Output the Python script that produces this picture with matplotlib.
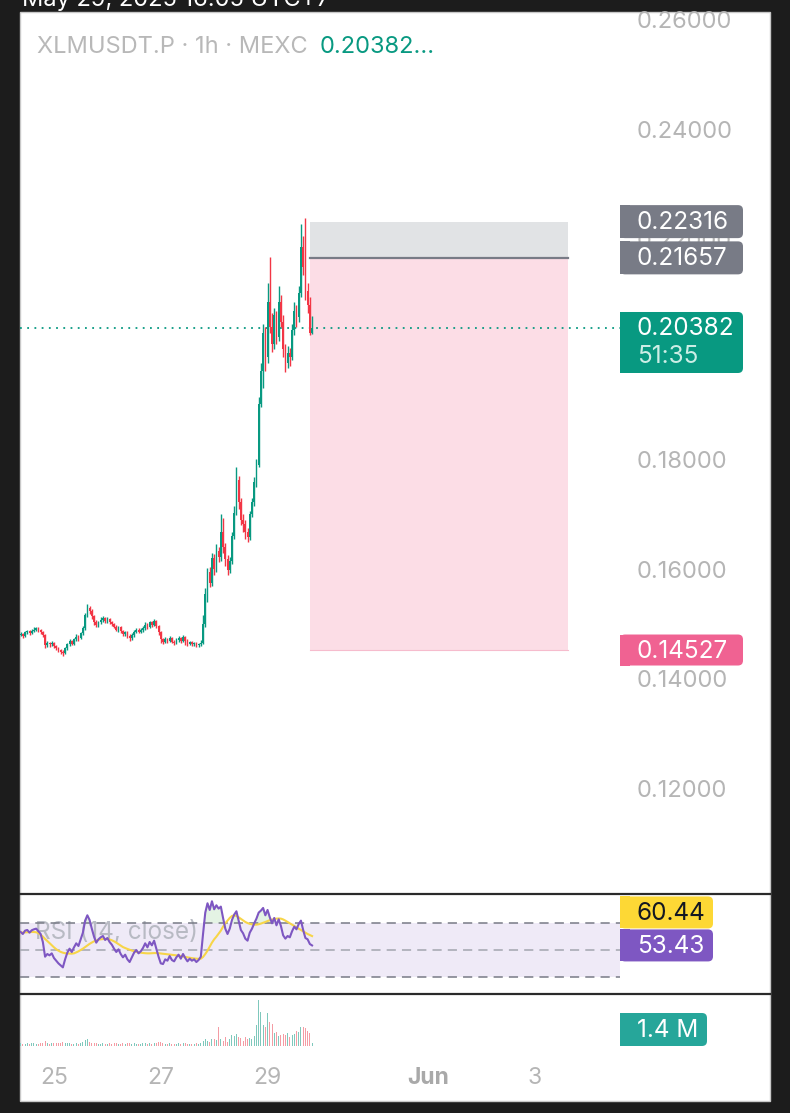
import numpy as np
import matplotlib
matplotlib.use("Agg")
import matplotlib.pyplot as plt
from matplotlib.patches import Rectangle, FancyBboxPatch
from matplotlib.transforms import IdentityTransform
from matplotlib.lines import Line2D

plt.rcParams['font.family'] = ['Inter', 'DejaVu Sans']

# ---- data: hourly candles from May 24 09:00 (index 0) ----
first_open = 0.1480
closes = [0.1482, 0.1478, 0.1485, 0.1487, 0.1483, 0.1488, 0.1490, 0.1492, 0.1489, 0.1486,
          0.1480, 0.1462, 0.1465, 0.1463, 0.1466, 0.1460, 0.1456, 0.1452, 0.1449, 0.1447,
          0.1456, 0.1463, 0.1469, 0.1464, 0.1472, 0.1477, 0.1474, 0.1483, 0.1492, 0.1516,
          0.1530, 0.1524, 0.1514, 0.1504, 0.1498, 0.1503, 0.1508, 0.1511, 0.1505, 0.1509,
          0.1503, 0.1500, 0.1495, 0.1490, 0.1494, 0.1487, 0.1482, 0.1485, 0.1478, 0.1474,
          0.1480, 0.1486, 0.1490, 0.1486, 0.1489, 0.1493, 0.1499, 0.1494, 0.1503, 0.1499,
          0.1505, 0.1496, 0.1485, 0.1472, 0.1468, 0.1473, 0.1470, 0.1475, 0.1468, 0.1466,
          0.1471, 0.1474, 0.1469, 0.1476, 0.1470, 0.1464, 0.1467, 0.1463, 0.1465, 0.1461,
          0.1463, 0.1466, 0.1500, 0.1555, 0.1595, 0.1575, 0.1620, 0.1600, 0.1632, 0.1622,
          0.1668, 0.1640, 0.1618, 0.1598, 0.1615, 0.1660, 0.1702, 0.1762, 0.1722, 0.1690,
          0.1682, 0.1668, 0.1658, 0.1700, 0.1722, 0.1758, 0.1790, 0.1900, 0.1960, 0.2030,
          0.1985, 0.2085, 0.2040, 0.2010, 0.2062, 0.2022, 0.2085, 0.2050, 0.2000, 0.1975,
          0.1992, 0.1985, 0.2035, 0.2070, 0.2058, 0.2102, 0.2185, 0.2150, 0.2105, 0.2080,
          0.2030, 0.20382]
highs = [0.1486, 0.1484, 0.1488, 0.1490, 0.1489, 0.1491, 0.1494, 0.1495, 0.1494, 0.1491,
         0.1488, 0.1482, 0.1469, 0.1468, 0.1470, 0.1467, 0.1462, 0.1459, 0.1455, 0.1452,
         0.1459, 0.1466, 0.1472, 0.1471, 0.1475, 0.1481, 0.1480, 0.1486, 0.1496, 0.1520,
         0.1536, 0.1533, 0.1527, 0.1517, 0.1508, 0.1506, 0.1512, 0.1515, 0.1513, 0.1512,
         0.1511, 0.1506, 0.1502, 0.1498, 0.1497, 0.1496, 0.1490, 0.1488, 0.1487, 0.1481,
         0.1483, 0.1489, 0.1493, 0.1492, 0.1492, 0.1496, 0.1503, 0.1501, 0.1506, 0.1505,
         0.1510, 0.1507, 0.1498, 0.1488, 0.1474, 0.1476, 0.1475, 0.1478, 0.1477, 0.1471,
         0.1474, 0.1478, 0.1476, 0.1480, 0.1478, 0.1472, 0.1470, 0.1469, 0.1468, 0.1467,
         0.1466, 0.1471, 0.1516, 0.1565, 0.1601, 0.1604, 0.1630, 0.1628, 0.1645, 0.1640,
         0.1700, 0.1692, 0.1648, 0.1625, 0.1622, 0.1668, 0.1715, 0.1786, 0.1770, 0.1730,
         0.1700, 0.1690, 0.1675, 0.1706, 0.1730, 0.1768, 0.1800, 0.1912, 0.1975, 0.2045,
         0.2040, 0.2120, 0.2167, 0.2065, 0.2075, 0.2070, 0.2115, 0.2098, 0.2062, 0.2010,
         0.2005, 0.2002, 0.2045, 0.2085, 0.2080, 0.2115, 0.2228, 0.2205, 0.2238, 0.2120,
         0.2095, 0.2060]
lows = [0.1478, 0.1475, 0.1476, 0.1482, 0.1480, 0.1481, 0.1485, 0.1487, 0.1485, 0.1482,
        0.1476, 0.1456, 0.1458, 0.1459, 0.1460, 0.1457, 0.1452, 0.1449, 0.1445, 0.1442,
        0.1445, 0.1453, 0.1460, 0.1461, 0.1462, 0.1469, 0.1470, 0.1472, 0.1480, 0.1490,
        0.1512, 0.1518, 0.1509, 0.1499, 0.1494, 0.1495, 0.1500, 0.1504, 0.1501, 0.1502,
        0.1500, 0.1496, 0.1492, 0.1487, 0.1486, 0.1484, 0.1479, 0.1478, 0.1475, 0.1470,
        0.1471, 0.1477, 0.1483, 0.1483, 0.1484, 0.1486, 0.1490, 0.1491, 0.1492, 0.1495,
        0.1497, 0.1492, 0.1480, 0.1466, 0.1464, 0.1465, 0.1466, 0.1468, 0.1465, 0.1462,
        0.1463, 0.1468, 0.1466, 0.1467, 0.1462, 0.1460, 0.1461, 0.1460, 0.1460, 0.1458,
        0.1459, 0.1460, 0.1463, 0.1495, 0.1540, 0.1568, 0.1570, 0.1590, 0.1595, 0.1612,
        0.1615, 0.1630, 0.1605, 0.1590, 0.1592, 0.1610, 0.1655, 0.1698, 0.1710, 0.1680,
        0.1668, 0.1655, 0.1650, 0.1652, 0.1695, 0.1715, 0.1750, 0.1785, 0.1895, 0.1930,
        0.1960, 0.1975, 0.2030, 0.1995, 0.2000, 0.2010, 0.2015, 0.2040, 0.1985, 0.1958,
        0.1965, 0.1970, 0.1980, 0.2025, 0.2040, 0.2050, 0.2095, 0.2135, 0.2090, 0.2065,
        0.2025, 0.2028]
volumes_m = [1.2, 1.0, 1.1, 1.3, 1.0, 1.2, 1.4, 1.1, 1.0, 1.2,
             1.5, 2.5, 1.3, 1.1, 1.2, 1.4, 1.2, 1.3, 1.5, 1.6,
             1.4, 1.3, 1.2, 1.0, 1.1, 1.3, 1.0, 1.4, 1.8, 2.8,
             3.2, 1.8, 1.5, 1.4, 1.3, 1.1, 1.0, 1.2, 1.1, 1.0,
             1.2, 1.1, 1.3, 1.2, 1.0, 1.1, 1.3, 1.0, 1.2, 1.4,
             1.1, 1.2, 1.0, 1.1, 1.0, 1.2, 1.3, 1.1, 1.2, 1.1,
             1.4, 1.3, 1.6, 2.0, 1.3, 1.1, 1.0, 1.2, 1.1, 1.0,
             1.1, 1.2, 1.0, 1.3, 1.2, 1.1, 1.0, 1.1, 1.0, 1.2,
             1.1, 1.3, 2.5, 3.0, 2.5, 2.0, 3.0, 3.2, 2.6, 8.5,
             3.0, 2.5, 4.0, 2.0, 3.0, 5.0, 4.5, 5.5, 4.0, 3.5,
             2.5, 4.0, 3.0, 3.5, 3.0, 4.5, 9.4, 21.0, 15.5, 9.4,
             8.5, 15.0, 11.0, 10.0, 6.0, 6.5, 4.7, 5.0, 5.6, 5.0,
             5.8, 4.0, 5.0, 5.5, 7.0, 6.5, 8.5, 8.5, 8.0, 7.0,
             6.0, 1.4]
rsi = [63.5, 62.0, 64.5, 65.0, 63.0, 64.8, 65.5, 66.0, 64.0, 62.0,
       56.0, 45.0, 47.0, 46.0, 47.5, 44.0, 42.0, 40.0, 38.5, 37.0,
       43.0, 48.0, 51.0, 48.5, 52.0, 55.0, 53.0, 58.0, 63.0, 72.0,
       76.0, 72.5, 66.0, 60.0, 55.5, 58.0, 59.5, 60.5, 57.5, 59.0,
       56.0, 54.0, 51.0, 48.5, 50.5, 47.0, 44.5, 46.5, 43.0, 41.0,
       44.5, 48.0, 50.0, 47.5, 49.0, 51.5, 55.0, 52.0, 56.0, 53.5,
       57.0, 51.0, 45.0, 40.0, 39.5, 43.0, 42.0, 45.5, 42.5, 41.5,
       44.5, 46.5, 43.5, 47.0, 44.0, 41.5, 43.5, 42.0, 43.0, 41.0,
       42.5, 45.0, 62.0, 78.0, 85.0, 80.0, 86.5, 80.5, 83.5, 81.0,
       82.5, 74.0, 66.0, 62.0, 66.0, 72.5, 76.5, 79.0, 72.0, 65.0,
       62.5, 58.5, 57.0, 63.0, 66.0, 70.0, 73.5, 78.0, 79.5, 81.5,
       76.0, 80.0, 74.5, 70.0, 74.0, 68.5, 73.0, 68.0, 61.0, 58.5,
       60.5, 59.5, 64.0, 67.5, 65.5, 69.5, 72.0, 65.0, 59.0, 58.0,
       54.5, 53.43]
rsi_ma = [63.0, 63.1, 63.2, 63.3, 63.4, 63.5, 63.5, 63.3, 62.6, 61.5,
          60.0, 58.3, 56.8, 55.2, 53.6, 52.0, 50.6, 49.5, 48.6, 48.0,
          47.6, 47.4, 47.3, 47.3, 47.5, 48.2, 49.0, 50.0, 51.0, 52.2,
          53.5, 54.6, 55.6, 56.5, 57.2, 57.7, 58.0, 58.2, 58.3, 58.2,
          57.9, 57.3, 56.5, 55.5, 54.4, 53.3, 52.2, 51.5, 50.8, 50.2,
          49.6, 49.1, 48.7, 48.3, 48.0, 47.8, 47.6, 47.5, 47.5, 47.6,
          47.7, 47.7, 47.6, 47.4, 47.2, 47.0, 46.8, 46.6, 46.4, 46.2,
          46.0, 45.7, 45.4, 45.1, 44.8, 44.5, 44.2, 43.9, 43.7, 43.5,
          43.4, 43.5, 44.8, 47.0, 49.5, 52.5, 55.5, 58.0, 60.0, 62.2,
          64.5, 67.5, 70.0, 72.0, 74.0, 75.5, 76.0, 75.5, 74.5, 73.3,
          72.0, 71.0, 70.2, 69.6, 69.2, 69.0, 69.0, 69.3, 69.8, 70.4,
          71.0, 71.7, 72.3, 72.8, 73.2, 73.5, 73.6, 73.5, 72.9, 72.0,
          71.0, 70.0, 69.0, 68.0, 67.0, 66.0, 65.0, 64.0, 63.0, 62.0,
          61.2, 60.44]

price_ticks = [0.12, 0.14, 0.16, 0.18, 0.20, 0.22, 0.24, 0.26]
day_ticks = [15, 63, 111, 183, 231]          # hours from May 24 09:00
day_labels = ['25', '27', '29', 'Jun', '3']

entry, stop, target = 0.21657, 0.22316, 0.14527
last_price = 0.20382
box_x = (130, 246)

# ---- colours ----
UP, DOWN = '#089981', '#f23645'
GREY_TXT = '#b2b5be'
W, H = 790, 1113

fig = plt.figure(figsize=(W / 100, H / 100), dpi=100, facecolor='#1c1c1c')
fig.add_artist(Rectangle((20, H - 1101), 750, 1089, transform=IdentityTransform(),
                         facecolor='white', edgecolor='#c8c8c8', lw=1, zorder=-5))


def axes_px(top, bottom):
    return fig.add_axes([20 / W, 1 - bottom / H, 600 / W, (bottom - top) / H])


ax = axes_px(12, 894)
rax = axes_px(896, 993)
vax = axes_px(995, 1046)
x = np.arange(len(closes))
xlim = (-0.27, 269.4)
for a in (ax, rax, vax):
    a.set_facecolor('none')
    a.set_xlim(*xlim)
    for s in a.spines.values():
        s.set_visible(False)
    a.tick_params(length=0)
    a.set_xticks([])
    a.set_yticks([])

# ---- price pane ----
closes_a = np.array(closes)
opens_a = np.array([first_open] + closes[:-1])
up = closes_a >= opens_a
cols = np.where(up, UP, DOWN)
ax.vlines(x, lows, highs, colors=cols, lw=1, zorder=3)
ax.bar(x, np.maximum(np.abs(closes_a - opens_a), 0.00015),
       bottom=np.minimum(opens_a, closes_a), width=0.75, color=cols, lw=0, zorder=3)
ax.set_ylim(0.100909, 0.261273)

ax.fill_between(box_x, entry, stop, color='#e1e3e5', lw=0, zorder=1)
ax.fill_between(box_x, target, entry, color='#fcdde6', lw=0, zorder=1)
ax.plot(box_x, [entry, entry], color='#787b86', lw=1.6, zorder=2)
ax.plot(box_x, [target, target], color='#f6bccd', lw=0.8, zorder=2)
ax.axhline(last_price, color=UP, lw=1.3, ls=(0, (1, 3)), zorder=2)

ax.yaxis.tick_right()
ax.set_yticks(price_ticks)
ax.set_yticklabels([f'{v:.5f}' for v in price_ticks], fontsize=17, color='#b5b5b5')
ax.tick_params(axis='y', pad=12, length=0)

# ---- RSI pane ----
rax.set_ylim(17.8, 90.45)
rax.axhspan(30, 70, color='#7e57c2', alpha=0.12, lw=0)
for lvl, c in ((70, '#787b86'), (50, '#a3a6af'), (30, '#787b86')):
    rax.axhline(lvl, color=c, lw=1.1, dashes=(6, 4))
rsi_a = np.array(rsi)
rax.fill_between(x, rsi_a, 70, where=rsi_a > 70, interpolate=True,
                 color='#4caf50', alpha=0.15, lw=0)
rax.plot(x, rsi_ma, color='#f7d548', lw=1.5, zorder=3)
rax.plot(x, rsi, color='#7e57c2', lw=1.5, zorder=4)
rax.text(35, H - 932, 'RSI (14, close)', transform=IdentityTransform(), fontsize=17.5,
         color=GREY_TXT, alpha=0.9, va='center', zorder=1)

# ---- volume pane ----
vax.set_ylim(0, 23.28)
vcols = np.where(up, '#7fc8bc', '#f49ca4')
vax.bar(x, volumes_m, width=0.45, color=vcols, lw=0)
vax.set_xticks(day_ticks)
vax.set_xticklabels(day_labels, fontsize=16.5, color='#b5b5b5')
vax.tick_params(axis='x', pad=15, length=0)
vax.get_xticklabels()[3].set_fontweight('bold')
vax.get_xticklabels()[3].set_color('#a9a9a9')

# ---- pane separators ----
for yy in (894, 994):
    fig.add_artist(Line2D([20, 770], [H - yy, H - yy], transform=IdentityTransform(),
                          color='#2a2a2a', lw=1.6))


def tag(yc, text, fc, tc='white', w=123, h=33, top=None, bottom=None, extra=None):
    top = yc + h / 2 if top is None else top
    bottom = yc - h / 2 if bottom is None else bottom
    fig.add_artist(FancyBboxPatch((620, bottom), w, top - bottom,
                                  boxstyle='round,pad=0,rounding_size=5',
                                  transform=IdentityTransform(), fc=fc, ec='none', zorder=5))
    fig.add_artist(Rectangle((620, bottom), 10, top - bottom,
                             transform=IdentityTransform(), fc=fc, ec='none', zorder=5))
    fig.text(637 / W, (yc - 1) / H, text, color=tc, fontsize=17.5, va='center', zorder=6)
    if extra:
        fig.text(637 / W, (yc - 29) / H, extra, color='#cdeee6', fontsize=17.5,
                 va='center', zorder=6)


def ypix(a, v):
    return a.transData.transform((0, v))[1]


tag(ypix(ax, stop), '0.22316', '#787b86')
tag(ypix(ax, entry), '0.21657', '#787b86')
yl = ypix(ax, last_price)
tag(yl, '0.20382', UP, top=yl + 16, bottom=yl - 45, extra='51:35')
tag(ypix(ax, target), '0.14527', '#f06292', h=31)
yp = ypix(rax, rsi[-1])
tag(yp, f'{rsi[-1]:.2f}', '#7e57c2', w=93, h=32)
tag(yp + 33, f'{rsi_ma[-1]:.2f}', '#fdd835', tc='#131722', w=93, h=32)
tag(H - 1046 + 16.5, '1.4 M', '#26a69a', w=87)

# ---- header ----
fig.text(37 / W, 1 - 47 / H, 'XLMUSDT.P · 1h · MEXC', fontsize=17, color='#b8b8b8', va='center')
fig.text(320 / W, 1 - 47 / H, '0.20382...', fontsize=17, color=UP, va='center')
fig.text(22 / W, 1 - 6 / H, 'May 29, 2025 16:05 UTC+7', fontsize=17, color='white',
         va='baseline')

fig.savefig('out.png', dpi=100, facecolor=fig.get_facecolor())
